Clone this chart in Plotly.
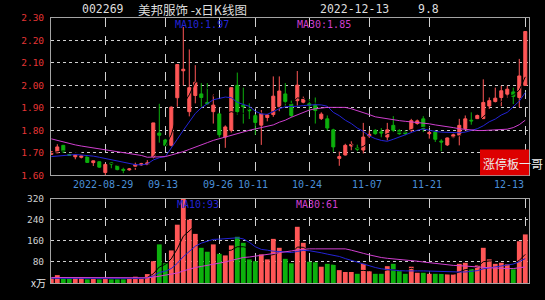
import plotly.graph_objects as go

# ---------------- data ----------------
idx = list(range(80))
opens = [1.693, 1.700, 1.733, 1.692, 1.682, 1.680, 1.682, 1.656, 1.660, 1.612,
         1.655, 1.643, 1.626, 1.624, 1.640, 1.646, 1.648, 1.682, 1.788, 1.757,
         1.733, 1.945, 2.065, 1.883, 1.955, 1.962, 1.924, 1.883, 1.873, 1.770,
         1.800, 2.000, 1.912, 1.893, 1.865, 1.823, 1.857, 1.870, 1.905, 1.962,
         1.917, 1.932, 1.925, 1.918, 1.912, 1.852, 1.851, 1.802, 1.675, 1.690,
         1.730, 1.722, 1.712, 1.775, 1.800, 1.793, 1.770, 1.822, 1.799, 1.792,
         1.800, 1.830, 1.851, 1.785, 1.792, 1.752, 1.735, 1.770, 1.778, 1.808,
         1.845, 1.852, 1.852, 1.908, 1.928, 1.946, 1.961, 1.971, 1.946, 2.000]
highs = [1.707, 1.738, 1.735, 1.695, 1.692, 1.688, 1.685, 1.665, 1.662, 1.652,
         1.656, 1.646, 1.635, 1.632, 1.656, 1.655, 1.667, 1.833, 1.918, 1.762,
         1.906, 2.093, 2.260, 2.160, 2.090, 2.010, 2.010, 1.960, 1.878, 1.822,
         1.990, 2.057, 1.990, 1.920, 1.872, 1.890, 1.875, 2.040, 2.040, 2.010,
         1.932, 2.064, 1.950, 1.939, 1.946, 1.880, 1.866, 1.807, 1.705, 1.740,
         1.751, 1.736, 1.833, 1.799, 1.805, 1.810, 1.833, 1.863, 1.805, 1.800,
         1.851, 1.848, 1.863, 1.800, 1.800, 1.760, 1.768, 1.785, 1.851, 1.866,
         1.880, 1.870, 2.027, 1.946, 1.990, 1.998, 1.998, 1.990, 2.118, 2.240]
lows = [1.690, 1.698, 1.700, 1.686, 1.671, 1.675, 1.655, 1.641, 1.633, 1.600,
        1.631, 1.622, 1.609, 1.620, 1.624, 1.642, 1.641, 1.675, 1.745, 1.728,
        1.728, 1.905, 2.000, 1.862, 1.920, 1.905, 1.915, 1.830, 1.768, 1.722,
        1.790, 1.870, 1.830, 1.850, 1.780, 1.735, 1.840, 1.860, 1.885, 1.910,
        1.858, 1.910, 1.920, 1.888, 1.830, 1.846, 1.800, 1.704, 1.642, 1.688,
        1.711, 1.707, 1.697, 1.766, 1.780, 1.766, 1.755, 1.792, 1.780, 1.778,
        1.792, 1.825, 1.792, 1.763, 1.748, 1.707, 1.730, 1.765, 1.733, 1.800,
        1.825, 1.850, 1.850, 1.895, 1.924, 1.907, 1.946, 1.917, 1.902, 1.998]
closes = [1.704, 1.726, 1.704, 1.688, 1.690, 1.686, 1.657, 1.664, 1.636, 1.648,
          1.650, 1.625, 1.622, 1.628, 1.648, 1.651, 1.655, 1.833, 1.778, 1.733,
          1.903, 2.093, 2.072, 1.990, 2.014, 1.946, 1.918, 1.912, 1.780, 1.815,
          1.990, 1.883, 1.905, 1.887, 1.835, 1.875, 1.868, 1.952, 1.975, 1.928,
          1.866, 2.001, 1.940, 1.912, 1.888, 1.872, 1.810, 1.726, 1.683, 1.733,
          1.738, 1.716, 1.770, 1.782, 1.785, 1.788, 1.802, 1.800, 1.785, 1.785,
          1.843, 1.842, 1.808, 1.790, 1.760, 1.748, 1.766, 1.780, 1.822, 1.851,
          1.842, 1.866, 1.924, 1.932, 1.943, 1.976, 1.983, 1.951, 2.042, 2.240]
volume = [20, 30, 16, 16, 20, 20, 14, 16, 14, 18,
          14, 14, 14, 16, 24, 18, 34, 83, 147, 75,
          124, 222, 322, 241, 187, 134, 119, 147, 111, 105,
          143, 176, 153, 90, 83, 109, 90, 168, 134, 92,
          75, 214, 153, 81, 79, 62, 73, 70, 49, 42,
          42, 35, 73, 45, 35, 35, 64, 73, 45, 35,
          62, 39, 39, 35, 35, 35, 33, 33, 73, 77,
          54, 67, 134, 90, 73, 77, 71, 52, 159, 185]
ma5 = [1.700, 1.705, 1.708, 1.705, 1.702, 1.699, 1.685, 1.677, 1.667, 1.658,
       1.651, 1.645, 1.636, 1.635, 1.635, 1.635, 1.641, 1.683, 1.713, 1.730,
       1.780, 1.868, 1.916, 1.958, 2.014, 2.023, 1.988, 1.956, 1.914, 1.874,
       1.883, 1.876, 1.875, 1.896, 1.900, 1.877, 1.874, 1.883, 1.901, 1.920,
       1.918, 1.944, 1.942, 1.929, 1.921, 1.923, 1.884, 1.842, 1.796, 1.765,
       1.738, 1.719, 1.728, 1.748, 1.758, 1.768, 1.785, 1.791, 1.792, 1.792,
       1.803, 1.811, 1.813, 1.814, 1.809, 1.790, 1.774, 1.769, 1.775, 1.793,
       1.812, 1.832, 1.861, 1.883, 1.901, 1.928, 1.952, 1.957, 1.979, 2.038]
ma10 = [1.683, 1.686, 1.689, 1.691, 1.692, 1.690, 1.688, 1.685, 1.680, 1.675,
        1.670, 1.664, 1.658, 1.652, 1.647, 1.646, 1.650, 1.668, 1.678, 1.683,
        1.720, 1.760, 1.800, 1.840, 1.875, 1.900, 1.920, 1.936, 1.942, 1.948,
        1.945, 1.925, 1.915, 1.907, 1.885, 1.873, 1.871, 1.885, 1.896, 1.905,
        1.905, 1.907, 1.910, 1.913, 1.914, 1.913, 1.907, 1.880, 1.865, 1.845,
        1.830, 1.810, 1.795, 1.775, 1.763, 1.755, 1.751, 1.760, 1.770, 1.780,
        1.790, 1.800, 1.806, 1.800, 1.795, 1.792, 1.790, 1.788, 1.789, 1.792,
        1.798, 1.807, 1.820, 1.838, 1.850, 1.868, 1.880, 1.905, 1.930, 1.968]
ma30 = [1.762, 1.755, 1.750, 1.740, 1.735, 1.730, 1.726, 1.722, 1.718, 1.714,
        1.710, 1.706, 1.702, 1.699, 1.695, 1.688, 1.680, 1.680, 1.681, 1.683,
        1.690, 1.697, 1.705, 1.715, 1.724, 1.735, 1.745, 1.755, 1.763, 1.770,
        1.778, 1.785, 1.792, 1.800, 1.806, 1.812, 1.818, 1.824, 1.836, 1.845,
        1.858, 1.868, 1.880, 1.890, 1.896, 1.900, 1.902, 1.902, 1.902, 1.902,
        1.896, 1.888, 1.880, 1.870, 1.860, 1.855, 1.850, 1.845, 1.843, 1.840,
        1.838, 1.836, 1.833, 1.829, 1.824, 1.821, 1.817, 1.812, 1.807, 1.804,
        1.801, 1.799, 1.799, 1.800, 1.801, 1.802, 1.805, 1.812, 1.825, 1.845]
vma5 = [20, 21, 20, 19, 20, 20, 17, 17, 17, 16,
        15, 15, 15, 15, 16, 17, 21, 35, 61, 71,
        92, 130, 178, 197, 219, 221, 201, 166, 140, 123,
        125, 138, 138, 133, 129, 122, 105, 108, 117, 119,
        112, 137, 136, 123, 120, 118, 90, 73, 67, 59,
        55, 48, 48, 47, 46, 45, 50, 50, 50, 50,
        56, 51, 44, 42, 42, 37, 35, 34, 42, 51,
        54, 61, 81, 84, 84, 88, 89, 73, 86, 109]
vma10 = [18, 18, 18, 18, 18, 18, 18, 18, 17, 17,
         17, 17, 17, 17, 17, 18, 20, 27, 40, 45,
         55, 75, 100, 122, 140, 152, 160, 166, 167, 168,
         170, 172, 168, 155, 138, 128, 125, 121, 120, 118,
         116, 120, 124, 123, 120, 115, 110, 106, 101, 93,
         86, 78, 72, 66, 59, 54, 51, 50, 47, 46,
         47, 46, 46, 45, 45, 43, 43, 42, 42, 42,
         44, 47, 54, 58, 62, 66, 70, 72, 81, 93]
vma30 = [21, 21, 21, 21, 20, 20, 20, 20, 20, 19,
         19, 19, 19, 19, 19, 19, 20, 22, 26, 28,
         32, 38, 46, 53, 59, 63, 67, 71, 75, 80,
         86, 92, 97, 99, 102, 105, 108, 112, 116, 119,
         122, 126, 129, 130, 130, 130, 131, 131, 131, 130,
         125, 120, 113, 107, 101, 97, 94, 92, 90, 89,
         86, 83, 80, 77, 74, 72, 69, 67, 66, 64,
         62, 61, 60, 58, 57, 55, 55, 55, 57, 61]
tick_idx = [9, 19, 28, 34, 43, 53, 63, 79]
tick_text = ["2022-08-29", "09-13", "09-26", "10-11", "10-24", "11-07", "11-21", "12-13"]
label_pos = [8.6, 18.6, 27.8, 33.6, 42.6, 52.7, 62.7, 76.3]
price_ticks = [1.60, 1.70, 1.80, 1.90, 2.00, 2.10, 2.20, 2.30]
vol_ticks = [80, 160, 240, 320]

# ---------------- style ----------------
RED = "#ff5656"
GREEN = "#0db00d"
BLUE = "#2424d6"
MAG = "#cf3fcf"
GRID = "#d0d0d0"
BORDER = "#a4a4a4"
MONO = "DejaVu Sans Mono"
CJK = "Noto Sans CJK SC"

W, H = 545, 300
ML, MR, MT, MB = 51, 16, 18, 14
PW, PH = W - ML - MR, H - MT - MB


def px(x):
    return (x - ML) / PW


def py(y):
    return (H - MB - y) / PH


fig = go.Figure()

fig.add_trace(go.Candlestick(
    x=idx, open=opens, high=highs, low=lows, close=closes,
    increasing=dict(line=dict(color=RED, width=1), fillcolor=RED),
    decreasing=dict(line=dict(color=GREEN, width=1), fillcolor=GREEN),
    whiskerwidth=0, xaxis="x", yaxis="y", showlegend=False, hoverinfo="skip"))

for ys, col in [(ma5, "#000000"), (ma10, BLUE), (ma30, MAG)]:
    fig.add_trace(go.Scatter(x=idx, y=ys, mode="lines", line=dict(color=col, width=1),
                             xaxis="x", yaxis="y", showlegend=False, hoverinfo="skip"))

vcolors = [RED if c >= o else GREEN for o, c in zip(opens, closes)]
fig.add_trace(go.Bar(x=idx, y=volume, marker=dict(color=vcolors, line=dict(width=0)),
                     xaxis="x2", yaxis="y2", showlegend=False, hoverinfo="skip"))
for ys, col in [(vma5, "#000000"), (vma10, BLUE), (vma30, MAG)]:
    fig.add_trace(go.Scatter(x=idx, y=ys, mode="lines", line=dict(color=col, width=1),
                             xaxis="x2", yaxis="y2", showlegend=False, hoverinfo="skip"))

top_dom = [py(177), 1.0]
bot_dom = [0.0, py(201)]
xr = [-0.05, 79.62]

common_x = dict(range=xr, showticklabels=False, tickvals=tick_idx, ticks="",
                showgrid=True, gridcolor=GRID, griddash="dash", gridwidth=1,
                showline=True, linecolor=BORDER, linewidth=1, mirror=True,
                zeroline=False, fixedrange=True)

fig.update_layout(
    width=W, height=H,
    margin=dict(l=ML, r=MR, t=MT, b=MB, pad=0),
    paper_bgcolor="#000000", plot_bgcolor="#000000",
    boxgap=0.28, bargap=0.2,
    xaxis=dict(domain=[0, 1], anchor="y", rangeslider=dict(visible=False), **common_x),
    xaxis2=dict(domain=[0, 1], anchor="y2", **common_x),
    yaxis=dict(domain=top_dom, anchor="x", range=[1.60, 2.30], tickvals=price_ticks,
               ticktext=["%.2f" % v for v in price_ticks], ticks="",
               tickfont=dict(family=MONO, size=9.5, color="#e53535"),
               showgrid=True, gridcolor=GRID, griddash="dot", gridwidth=1,
               showline=True, linecolor=BORDER, linewidth=1, mirror=True,
               zeroline=False, ticklabelstandoff=4, fixedrange=True),
    yaxis2=dict(domain=bot_dom, anchor="x2", range=[0, 320], tickvals=vol_ticks,
                ticktext=[str(v) for v in vol_ticks], ticks="",
                tickfont=dict(family=MONO, size=9.5, color="#cfcfcf"),
                showgrid=True, gridcolor=GRID, griddash="dot", gridwidth=1,
                showline=True, linecolor=BORDER, linewidth=1, mirror=True,
                zeroline=False, ticklabelstandoff=4, fixedrange=True),
)

ann = []
# x labels
for xv, t in zip(label_pos, tick_text):
    ann.append(dict(x=xv, xref="x", y=py(186), yref="paper", text=t, showarrow=False,
                    font=dict(family=MONO, size=10, color="#4a8fd8"),
                    xanchor="center", yanchor="middle"))
# titles
ann.append(dict(x=px(80), xref="paper", y=py(9), yref="paper", text="002269", showarrow=False,
                font=dict(family=MONO, size=11.5, color="#dedede"), xanchor="left", yanchor="middle"))
ann.append(dict(x=px(136), xref="paper", y=py(9), yref="paper", text="美邦服饰 -x日K线图", showarrow=False,
                font=dict(family=CJK, size=12.5, color="#dedede"), xanchor="left", yanchor="middle"))
ann.append(dict(x=px(318), xref="paper", y=py(9), yref="paper", text="2022-12-13", showarrow=False,
                font=dict(family=MONO, size=11.5, color="#dedede"), xanchor="left", yanchor="middle"))
ann.append(dict(x=px(416), xref="paper", y=py(9), yref="paper", text="9.8", showarrow=False,
                font=dict(family=MONO, size=11.5, color="#dedede"), xanchor="left", yanchor="middle"))
# MA legends
ann.append(dict(x=px(173), xref="paper", y=py(25), yref="paper", text="MA10:1.97", showarrow=False,
                font=dict(family=MONO, size=10, color=BLUE), xanchor="left", yanchor="middle"))
ann.append(dict(x=px(295), xref="paper", y=py(25), yref="paper", text="MA30:1.85", showarrow=False,
                font=dict(family=MONO, size=10, color=MAG), xanchor="left", yanchor="middle"))
ann.append(dict(x=px(175), xref="paper", y=py(207), yref="paper", text="MA10:93", showarrow=False,
                font=dict(family=MONO, size=10, color=BLUE), xanchor="left", yanchor="middle"))
ann.append(dict(x=px(294), xref="paper", y=py(207), yref="paper", text="MA30:61", showarrow=False,
                font=dict(family=MONO, size=10, color=MAG), xanchor="left", yanchor="middle"))
# unit label
ann.append(dict(x=px(29), xref="paper", y=py(285), yref="paper", text="x万", showarrow=False,
                font=dict(family=CJK, size=10, color="#e6e6e6"), xanchor="left", yanchor="middle"))
# watermark box text
ann.append(dict(x=px(481), xref="paper", y=py(165), yref="paper", text="涨停板一哥", showarrow=False,
                font=dict(family=CJK, size=12, color="#ececec"), xanchor="left", yanchor="middle"))

fig.update_layout(annotations=ann)
fig.add_shape(type="rect", xref="paper", yref="paper", x0=px(480), x1=px(529), y0=py(177), y1=py(151),
              fillcolor="#dd0000", line=dict(width=0), layer="above")

fig.write_html("out.html", config={"displayModeBar": False, "staticPlot": True})
